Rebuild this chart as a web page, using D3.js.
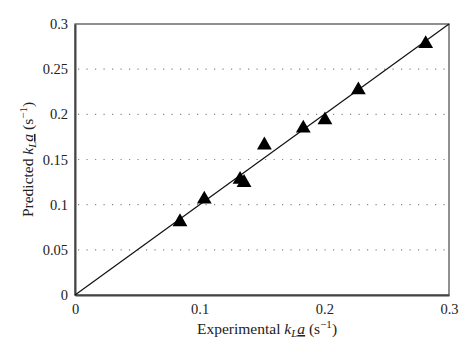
<!DOCTYPE html>
<html><head><meta charset="utf-8">
<script src="https://cdn.jsdelivr.net/npm/d3@7"></script>
<style>body{margin:0;background:#fff}svg text{font-family:"Liberation Serif","DejaVu Serif",serif !important;fill:#222}</style>
</head><body>
<svg id="c" width="474" height="355"></svg>
<script>
const experimental = [0.0842, 0.1037, 0.1324, 0.1356, 0.1519, 0.1831, 0.2005, 0.2273, 0.2813];
const predicted    = [0.082, 0.107, 0.129, 0.1255, 0.167, 0.1856, 0.1948, 0.228, 0.2793];
const xTicks = [0, 0.1, 0.2, 0.3];
const yTicks = [0, 0.05, 0.1, 0.15, 0.2, 0.25, 0.3];
const parityLine = [[0, 0], [0.3, 0.3]];

const svg = d3.select("#c");
const m = {l: 75, r: 25, t: 24, b: 60};
const W = 474, H = 355;
const x = d3.scaleLinear().domain([0, 0.3]).range([m.l, W - m.r]);
const y = d3.scaleLinear().domain([0, 0.3]).range([H - m.b, m.t]);

// dotted gridlines
svg.append("g").selectAll("line").data(yTicks.filter(d => d > 0 && d < 0.3)).join("line")
  .attr("x1", x(0) + 3).attr("x2", x(0.3)).attr("y1", d => y(d)).attr("y2", d => y(d))
  .attr("stroke", "#888").attr("stroke-width", 1.2).attr("stroke-dasharray", "1.2,7.3");

// frame
svg.append("rect").attr("x", x(0)).attr("y", y(0.3)).attr("width", x(0.3) - x(0)).attr("height", y(0) - y(0.3))
  .attr("fill", "none").attr("stroke", "#555").attr("stroke-width", 1.3);

// axes
const xa = svg.append("g").attr("transform", `translate(0,${y(0)})`)
  .call(d3.axisBottom(x).tickValues(xTicks).tickSize(0).tickPadding(9).tickFormat(d3.format("")));
const ya = svg.append("g").attr("transform", `translate(${x(0)},0)`)
  .call(d3.axisLeft(y).tickValues(yTicks).tickSize(0).tickPadding(7).tickFormat(d3.format("")));
[xa, ya].forEach(a => {
  a.attr("font-family", null).attr("font-size", null);
  a.select(".domain").attr("stroke", "#444").attr("stroke-width", 2);
  a.selectAll("text").style("font-size", "14.5px").attr("fill", "#222");
});

// parity line
svg.append("path").datum(parityLine)
  .attr("d", d3.line().x(d => x(d[0])).y(d => y(d[1])))
  .attr("stroke", "#111").attr("stroke-width", 1.2).attr("fill", "none");

// triangles
const tri = d3.symbol().type(d3.symbolTriangle).size(95);
svg.append("g").selectAll("path").data(experimental.map((e, i) => [e, predicted[i]])).join("path")
  .attr("d", tri).attr("transform", d => `translate(${x(d[0])},${y(d[1]) + 1})`).attr("fill", "#000");

function addTitle(t, word) {
  t.append("tspan").text(word + " ");
  t.append("tspan").attr("font-style", "italic").text("k");
  t.append("tspan").attr("font-style", "italic").attr("font-size", 11).attr("dy", 3).text("L");
  t.append("tspan").attr("font-style", "italic").attr("dy", -3).attr("text-decoration", "underline").text("a");
  t.append("tspan").text(" (s");
  t.append("tspan").attr("font-size", 11).attr("dy", -6).text("−1");
  t.append("tspan").attr("dy", 6).text(")");
}
const xt = svg.append("text").attr("x", (x(0) + x(0.3)) / 2 + 5).attr("y", 334)
  .attr("text-anchor", "middle").attr("font-size", 15.5);
addTitle(xt, "Experimental");

const yt = svg.append("text").attr("transform", `translate(33,${(y(0) + y(0.3)) / 2}) rotate(-90)`)
  .attr("text-anchor", "middle").attr("font-size", 15.5);
addTitle(yt, "Predicted");
</script>
</body></html>
